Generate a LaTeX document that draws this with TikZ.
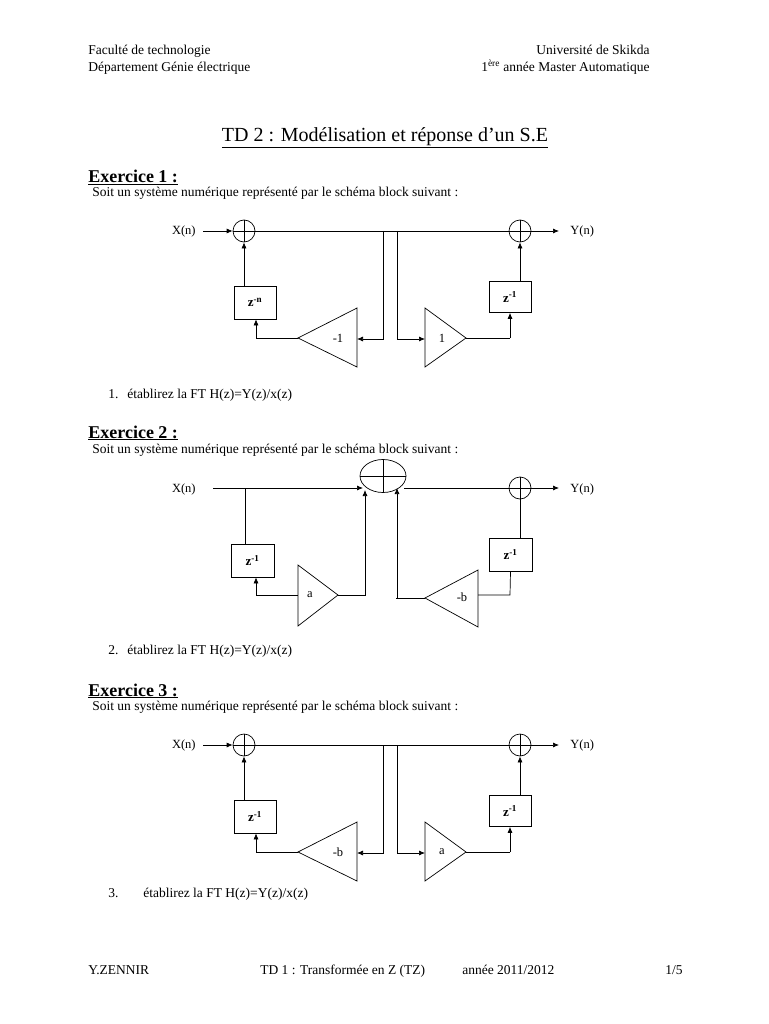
\documentclass[tikz,border=0pt]{standalone}
\usepackage{fontspec}
\setmainfont{Liberation Serif}
\usetikzlibrary{arrows.meta,shapes.geometric}
\newcommand\ulx[1]{\underline{#1}}
\newcommand\myblockrow[5]{%
\begin{scope}[yshift=#1]
\node[lab,anchor=east] (#5x) at (196,0) {X(n)};
\node[sumc] (#5s1) at (244,0) {};
\node[sumc] (#5s2) at (520,0) {};
\draw (#5s1.north)--(#5s1.south) (#5s1.west)--(#5s1.east);
\draw (#5s2.north)--(#5s2.south) (#5s2.west)--(#5s2.east);
\node[lab,anchor=west] (#5y) at (570,0) {Y(n)};
\node[blk,minimum width=42pt,minimum height=33pt] (#5b1) at (255,71.5) {#2};
\node[blk,minimum width=42pt,minimum height=31pt] (#5b2) at (510,66) {z\textsuperscript{-1}};
\coordinate (#5ta) at (357,77); \coordinate (#5tb) at (357,136); \coordinate (#5tc) at (298,107);
\draw (#5ta)--(#5tb)--(#5tc)--cycle;
\node[lab] (#5tl) at (338,107) {#3};
\coordinate (#5ua) at (425,77); \coordinate (#5ub) at (425,136); \coordinate (#5uc) at (466,107);
\draw (#5ua)--(#5ub)--(#5uc)--cycle;
\node[lab] (#5ul) at (442,107) {#4};
\draw[arr] (203,0)--(#5s1.west);
\draw (#5s1.east)--(#5s2.west);
\draw[arr] (#5s2.east)--(559,0);
\draw[arr] (383,0)--(383,108)--(357,108);
\draw (#5tc)--(256,107);
\draw[arr] (256,107)--(#5b1.south-|256,0);
\draw[arr] (#5b1.north-|244,0)--(#5s1.south);
\draw[arr] (397,0)--(397,108)--(425,108);
\draw (#5uc)--(510,107);
\draw[arr] (510,107)--(#5b2.south);
\draw[arr] (#5b2.north-|#5s2.south)--(#5s2.south);
\end{scope}}
\begin{document}
\begin{tikzpicture}[x=1pt,y=-1pt,
  txt/.style={inner sep=0pt,font=\fontsize{13.5}{16}\selectfont},
  lab/.style={inner sep=0pt,font=\fontsize{12.5}{14}\selectfont},
  sumc/.style={circle,draw,minimum size=22pt,inner sep=0pt},
  blk/.style={draw,inner sep=0pt,font=\fontsize{13}{14}\selectfont\bfseries},
  arr/.style={-{Latex[length=6pt,width=5pt]}},
  line width=0.7pt]
\useasboundingbox (0,0) rectangle (768,1024);
% header
\node[txt,anchor=base west] (h1) at (88,55) {Faculté de technologie};
\node[txt,anchor=base west] (h2) at (88,72) {Département Génie électrique};
\node[txt,anchor=base east] (h3) at (650,55) {Université de Skikda};
\node[txt,anchor=base east] (h4) at (650,72) {1\textsuperscript{ère} année Master Automatique};
\node[inner sep=0pt,anchor=base,font=\fontsize{20}{24}\selectfont] (title) at (385,142) {\ulx{TD 2 : Modélisation et réponse d’un S.E}};
% exercice 1
\node[inner sep=0pt,anchor=base west,font=\fontsize{18}{20}\selectfont\bfseries] (e1) at (88,183) {\ulx{Exercice 1 :}};
\node[txt,anchor=base west] (e1t) at (92,197) {Soit un système numérique représenté par le schéma block suivant :};
\myblockrow{-231pt}{z\textsuperscript{-n}}{-1}{1}{a}
\node[txt,anchor=base west] (q1) at (108,398) {1.\hspace{9pt}établirez la FT H(z)=Y(z)/x(z)};
% exercice 2
\node[inner sep=0pt,anchor=base west,font=\fontsize{18}{20}\selectfont\bfseries] (e2) at (88,438) {\ulx{Exercice 2 :}};
\node[txt,anchor=base west] (e2t) at (92,453) {Soit un système numérique représenté par le schéma block suivant :};
\node[lab,anchor=east] (x2) at (196,489) {X(n)};
\node[ellipse,draw,minimum width=46pt,minimum height=33pt,inner sep=0pt] (el) at (383,476) {};
\draw (el.north)--(el.south) (el.west)--(el.east);
\node[sumc] (s3) at (520,488) {};
\draw (s3.north)--(s3.south) (s3.west)--(s3.east);
\node[lab,anchor=west] (y2) at (570,489) {Y(n)};
\draw[arr] (213,488)--(363,488);
\draw (404,488)--(s3.west);
\draw[arr] (s3.east)--(559,488);
\node[blk,minimum width=43pt,minimum height=33pt] (b3) at (252.5,560.5) {z\textsuperscript{-1}};
\draw (245,488)--(b3.north-|245,0);
\draw[arr] (256,595)--(b3.south-|256,0);
\coordinate (ta2) at (298,565); \coordinate (tb2) at (298,626); \coordinate (tc2) at (338,595);
\draw (ta2)--(tb2)--(tc2)--cycle;
\node[lab] (tl2) at (310,595) {a};
\draw (256,595)--(ta2|-tc2);
\draw[arr] (tc2)--(365,595)--(365,490);
\node[blk,minimum width=43pt,minimum height=33pt] (b4) at (510.5,554.5) {z\textsuperscript{-1}};
\draw (s3.south)--(b4.north-|s3.south);
\coordinate (ua2) at (478,570); \coordinate (ub2) at (478,627); \coordinate (uc2) at (425,598);
\draw (ua2)--(ub2)--(uc2)--cycle;
\node[lab] (ul2) at (462,597) {-b};
\draw (b4.south)--(510,595)--(478,595);
\draw (uc2)--(396,598);
\draw[arr] (397,598)--(397,488);
\node[txt,anchor=base west] (q2) at (108,654) {2.\hspace{9pt}établirez la FT H(z)=Y(z)/x(z)};
% exercice 3
\node[inner sep=0pt,anchor=base west,font=\fontsize{18}{20}\selectfont\bfseries] (e3) at (88,696) {\ulx{Exercice 3 :}};
\node[txt,anchor=base west] (e3t) at (92,710) {Soit un système numérique représenté par le schéma block suivant :};
\myblockrow{-745pt}{z\textsuperscript{-1}}{-b}{a}{c}
\node[txt,anchor=base west] (q3n) at (108,897) {3.};
\node[txt,anchor=base west] (q3) at (143,897) {établirez la FT H(z)=Y(z)/x(z)};
% footer
\node[txt,anchor=base west] (f1) at (88,974) {Y.ZENNIR};
\node[txt,anchor=base west] (f2) at (260,974) {TD 1 : Transformée en Z (TZ)};
\node[txt,anchor=base west] (f3) at (462,974) {année 2011/2012};
\node[txt,anchor=base west] (f4) at (665,974) {1/5};
\end{tikzpicture}
\end{document}
